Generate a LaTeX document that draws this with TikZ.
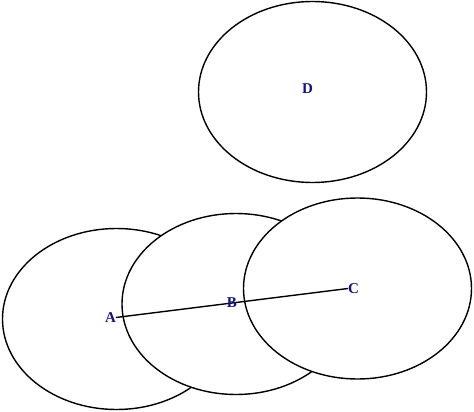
\documentclass[tikz,border=0pt]{standalone}
\usepackage{fontspec}
\setmainfont{Liberation Serif}
\usetikzlibrary{shapes.geometric}
\definecolor{lblblue}{RGB}{20,20,130}
\tikzset{
  circ/.style={draw=black, fill=white, ellipse, line width=1.4pt, minimum width=228pt, minimum height=181pt, inner sep=0pt},
  lbl/.style={text=lblblue, font=\fontsize{15pt}{15pt}\selectfont\bfseries, inner sep=0pt, outer sep=0pt},
  conn/.style={draw=black, line width=1.4pt}
}
\begin{document}
\begin{tikzpicture}[x=1pt, y=-1pt]
\useasboundingbox (0,0) rectangle (474,412);
\node[circ] (ed) at (312.5,92) {};
\node[circ] (ea) at (116.5,319) {};
\node[circ] (eb) at (236,304) {};
\node[circ] (ec) at (357.5,288.5) {};
\node[lbl] (la) at (110.5,317.5) {A};
\node[lbl] (lc) at (353.5,288.5) {C};
\draw[conn] (la.east) -- (lc.west);
\node[lbl] (lb) at (232,303) {B};
\node[lbl] (ld) at (307.5,88.5) {D};
\end{tikzpicture}
\end{document}
